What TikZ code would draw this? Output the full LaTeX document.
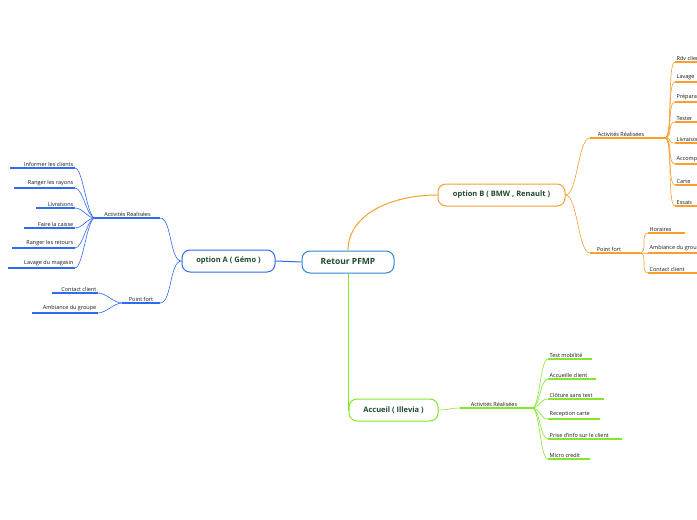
\documentclass[tikz,border=0pt]{standalone}
\usepackage{fontspec}
\setmainfont{Open Sans}
\definecolor{cO}{HTML}{F7A030}
\definecolor{cB}{HTML}{2F6BF0}
\definecolor{cG}{HTML}{86E62C}
\definecolor{cR}{HTML}{2E86D6}
\definecolor{tx}{HTML}{1F4A2E}
\tikzset{
 leaf/.style={font=\fontsize{5.5}{6.5}\selectfont, text=black!90, inner sep=1.5pt},
 box/.style={draw, line width=1pt, rounded corners=8pt, fill=white, font=\bfseries\fontsize{7.5}{8.5}\selectfont, text=tx, minimum height=22pt},
 conn/.style={line width=0.6pt},
 ul/.style={line width=1.6pt}
}
\newcommand\leafR[7]{%
 \coordinate (#1s) at (#2,#4); \coordinate (#1e) at (#3,#4);
 \draw[#6,conn] (#7) .. controls +(8,0) and +(-8,0) .. (#1s);
 \draw[#6,ul] (#1s)--(#1e);
 \node[leaf,anchor=south west] (#1) at (#1s) {#5};}
\newcommand\leafL[7]{%
 \coordinate (#1s) at (#2,#4); \coordinate (#1e) at (#3,#4);
 \draw[#6,conn] (#7) .. controls +(-8,0) and +(8,0) .. (#1e);
 \draw[#6,ul] (#1s)--(#1e);
 \node[leaf,anchor=south east] (#1) at (#1e) {#5};}
\begin{document}
\begin{tikzpicture}[x=1pt,y=-1pt]
\useasboundingbox[fill=white] (0,0) rectangle (697,520);
\clip (0,0) rectangle (697,520);
\node[box,draw=cR,minimum width=92pt,font=\bfseries\fontsize{8.5}{9.5}\selectfont] (root) at (348,262) {Retour PFMP};
\node[box,draw=cB,minimum width=93pt] (A) at (228.5,261) {option A ( Gémo )};
\node[box,draw=cO,minimum width=127pt] (B) at (501.5,195) {option B ( BMW , Renault )};
\node[box,draw=cG,minimum width=89pt] (C) at (393.5,410) {Accueil ( Illevia )};
\draw[cO,conn,line width=1pt] (root.north) .. controls (348,215) and (390,195) .. (B.west);
\draw[cB,conn,line width=1pt] (root.west) -- (A.east);
\draw[cG,conn,line width=1pt] (root.south) -- (348,410) -- (C.west);
% option A
\coordinate (Aa1) at (95,218); \coordinate (Aa2) at (160,218);
\draw[cB,conn] (A.west) .. controls +(-12,0) and +(12,0) .. (Aa2);
\draw[cB,ul] (Aa1)--(Aa2);
\node[leaf,anchor=south] (Aa) at (127.5,218) {Activités Réalisées};
\coordinate (Ap1) at (122,303); \coordinate (Ap2) at (160,303);
\draw[cB,conn] (A.west) .. controls +(-12,0) and +(12,0) .. (Ap2);
\draw[cB,ul] (Ap1)--(Ap2);
\node[leaf,anchor=south] (Ap) at (141,303) {Point fort};
\leafL{a1}{10}{75}{168}{Informer les clients}{cB}{Aa1}
\leafL{a2}{14}{75}{188}{Ranger les rayons}{cB}{Aa1}
\leafL{a3}{36}{75}{208}{Livraisons}{cB}{Aa1}
\leafL{a4}{24}{75}{228}{Faire la caisse}{cB}{Aa1}
\leafL{a5}{12}{75}{248}{Ranger les retours}{cB}{Aa1}
\leafL{a6}{8}{75}{268}{Lavage du magasin}{cB}{Aa1}
\leafL{a7}{52}{98}{293}{Contact client}{cB}{Ap1}
\leafL{a8}{32}{98}{313}{Ambiance du groupe}{cB}{Ap1}
% option B
\coordinate (Ba1) at (590,138); \coordinate (Ba2) at (665,138);
\draw[cO,conn] (B.east) .. controls +(12,0) and +(-12,0) .. (Ba1);
\draw[cO,ul] (Ba1)--(Ba2);
\node[leaf,anchor=south] (Ba) at (621,138) {Activités Réalisées};
\coordinate (Bp1) at (590,253); \coordinate (Bp2) at (640,253);
\draw[cO,conn] (B.east) .. controls +(12,0) and +(-12,0) .. (Bp1);
\draw[cO,ul] (Bp1)--(Bp2);
\node[leaf,anchor=south] (Bp) at (609,253) {Point fort};
\leafR{b1}{675}{720}{62}{Rdv client}{cO}{Ba2}
\leafR{b2}{675}{720}{82}{Lavage}{cO}{Ba2}
\leafR{b3}{675}{720}{102}{Préparation}{cO}{Ba2}
\leafR{b4}{675}{720}{122}{Tester}{cO}{Ba2}
\leafR{b5}{675}{720}{143}{Livraison}{cO}{Ba2}
\leafR{b6}{675}{720}{164}{Accompagnement}{cO}{Ba2}
\leafR{b7}{675}{720}{185}{Carte}{cO}{Ba2}
\leafR{b8}{675}{720}{206}{Essais}{cO}{Ba2}
\leafR{b9}{648}{685}{233}{Horaires}{cO}{Bp2}
\leafR{b10}{648}{720}{253}{Ambiance du groupe}{cO}{Bp2}
\leafR{b11}{648}{720}{273}{Contact client}{cO}{Bp2}
% Accueil
\coordinate (Ca1) at (460,408); \coordinate (Ca2) at (532,408);
\draw[cG,conn] (C.east) .. controls +(10,0) and +(-10,0) .. (Ca1);
\draw[cG,ul] (Ca1)--(Ca2);
\node[leaf,anchor=south] (Ca) at (494,408) {Activités Réalisées};
\leafR{c1}{548}{592}{359}{Test mobilité}{cG}{Ca2}
\leafR{c2}{548}{596}{379}{Accueille client}{cG}{Ca2}
\leafR{c3}{548}{604}{399}{Clôture sans test}{cG}{Ca2}
\leafR{c4}{548}{600}{419}{Reception carte}{cG}{Ca2}
\leafR{c5}{548}{622}{439}{Prise d'info sur le client}{cG}{Ca2}
\leafR{c6}{548}{590}{459}{Micro credit}{cG}{Ca2}
\end{tikzpicture}
\end{document}
